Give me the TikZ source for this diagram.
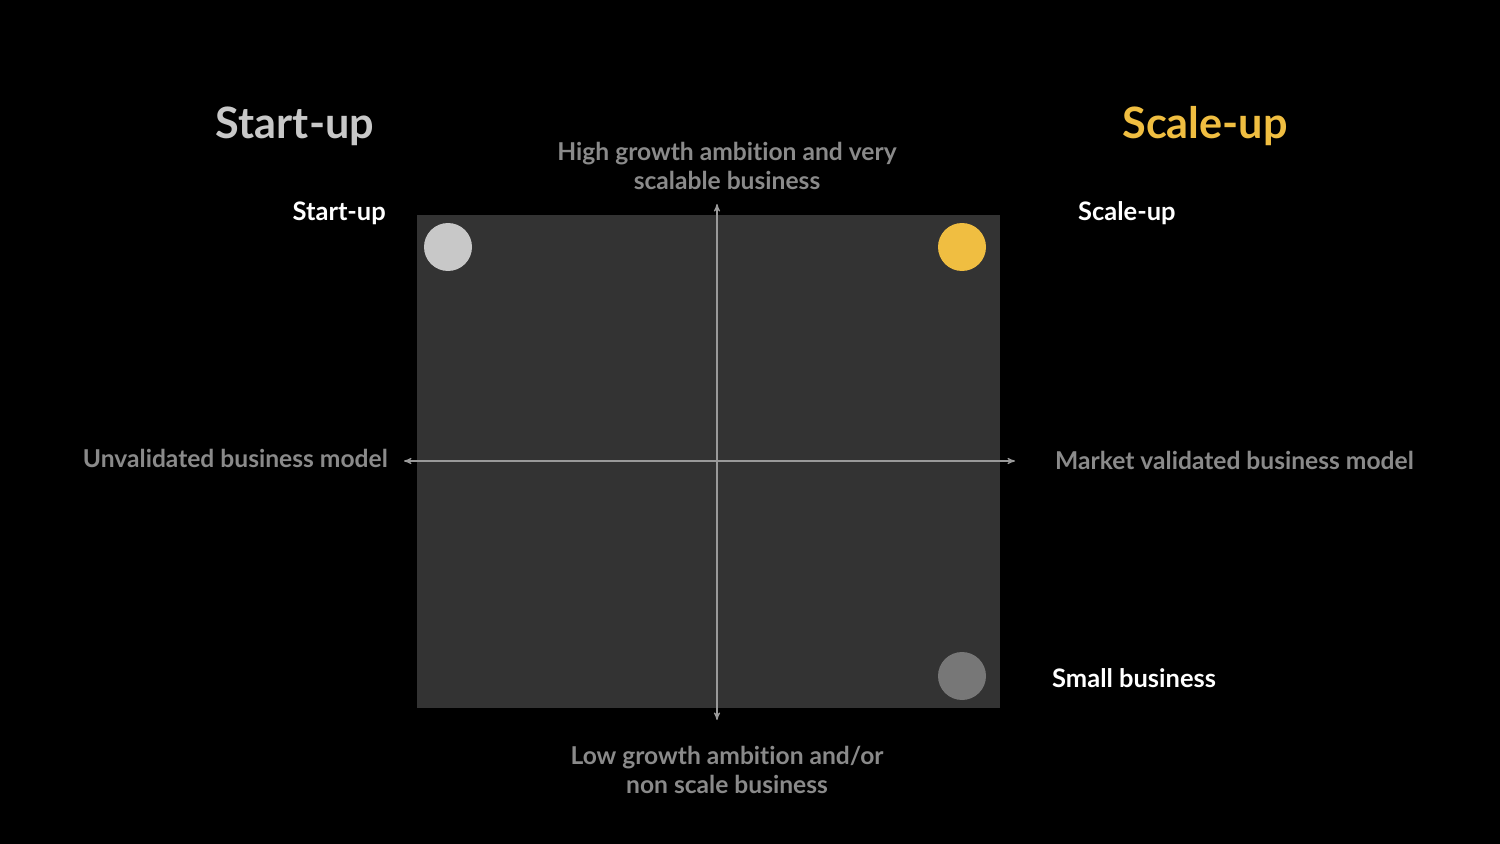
\documentclass[tikz,border=0pt]{standalone}
\usepackage{fontspec}
\setmainfont{Lato}[Ligatures={NoCommon,NoRare}]
\usetikzlibrary{arrows,positioning}
\definecolor{board}{HTML}{333333}
\definecolor{axisgray}{HTML}{9A9A9A}
\definecolor{labelgray}{HTML}{8A8A8A}
\definecolor{lightdot}{HTML}{C8C8C8}
\definecolor{gold}{HTML}{F0BE41}
\definecolor{darkdot}{HTML}{777777}
\tikzset{>=stealth',font=\bfseries}
\tikzset{
  title/.style={font=\fontsize{24.6}{29}\selectfont\bfseries},
  tag/.style={text=white,font=\fontsize{14.5}{17}\selectfont\bfseries},
  axislabel/.style={text=labelgray,align=center,font=\fontsize{14}{16.5}\selectfont\bfseries},
  dot/.style={circle,inner sep=0pt,minimum size=0.96cm}
}

\begin{document}
\begin{tikzpicture}[x=0.02cm,y=-0.02cm]
    \fill[black] (0,0) rectangle (1500,844);
    \node[fill=board,minimum width=11.66cm,minimum height=9.86cm,inner sep=0pt] (grid) at (708.5,461.5) {};

    % axes
    \coordinate (top) at (717,204);
    \coordinate (bottom) at (717,720);
    \coordinate (left) at (404,461);
    \coordinate (right) at (1015,461);
    \draw[axisgray,line width=0.6pt,<->] (bottom) -- (top);
    \draw[axisgray,line width=0.6pt,<->] (left) -- (right);

    % quadrant dots
    \node[dot,fill=lightdot] (startdot) at (448,247) {};
    \node[dot,fill=gold] (scaledot) at (962,247) {};
    \node[dot,fill=darkdot] (smalldot) at (962,676) {};

    \node[title,text=lightdot] (starttitle) at (295,126) {Start-up};
    \node[title,text=gold] (scaletitle) at (1205,126) {Scale-up};

    \node[tag,anchor=east] (starttag) at (392,213) {Start-up};
    \node[tag,anchor=west] (scaletag) at (1072,213) {Scale-up};
    \node[tag,anchor=west] (smalltag) at (1046,678) {Small business};

    \node[axislabel] (high) at (727,166) {High growth ambition and very\\scalable business};
    \node[axislabel] (low) at (727,770) {Low growth ambition and/or\\non scale business};
    \node[axislabel,anchor=east] (unval) at (394,458) {Unvalidated business model};
    \node[axislabel,anchor=west] (val) at (1049,460) {Market validated business model};
\end{tikzpicture}
\end{document}
